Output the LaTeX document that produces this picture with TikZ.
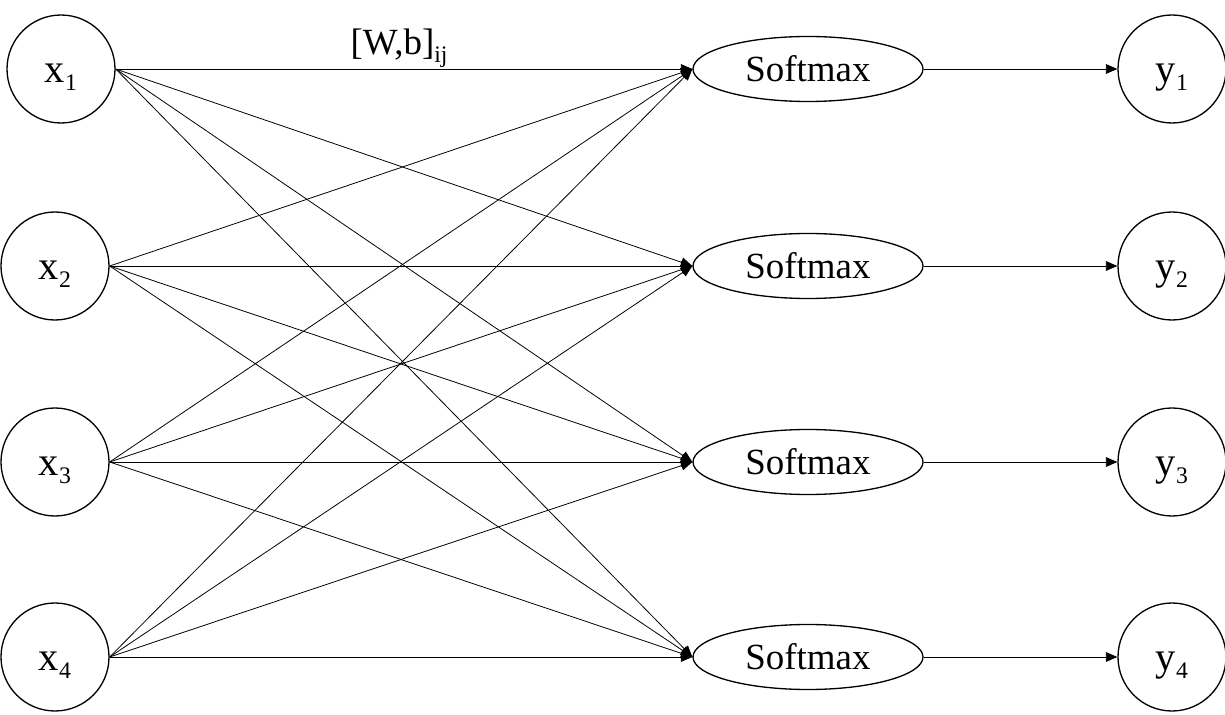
\documentclass[tikz,border=0pt]{standalone}
\usepackage{fontspec}
\setmainfont{Liberation Serif}
\usepackage{xcolor}
\usepackage{tikz}
\usetikzlibrary{arrows.meta,shapes.geometric}
\definecolor{ink}{HTML}{000000}
\newcommand{\idx}[1]{\raisebox{-4.5pt}{\fontsize{13.5}{14}\selectfont #1}}
\tikzset{
  unit/.style={draw=ink, circle, line width=0.75pt, minimum size=2.16cm, inner sep=0pt, text height=20.8pt, text depth=5pt, font=\fontsize{23}{27}\selectfont},
  soft/.style={draw=ink, ellipse, line width=0.75pt, minimum width=4.6cm, minimum height=1.3cm, inner sep=0pt, font=\fontsize{21}{25}\selectfont},
  link/.style={draw=ink, line width=0.45pt, -{Triangle[length=6.5pt,width=5.5pt]}},
  lab/.style={text=ink, font=\fontsize{21}{25}\selectfont},
}
\begin{document}
\begin{tikzpicture}
  \useasboundingbox (0,0) rectangle (24.5,14.28);
  \foreach \i/\xx/\yy in {1/1.22/12.9,2/1.10/8.96,3/1.10/5.04,4/1.10/1.14}
    \node[unit] (x\i) at (\xx,\yy) {x\idx{\i}};
  \foreach \j/\yy in {1/12.9,2/8.96,3/5.04,4/1.14}{
    \node[soft] (s\j) at (16.16,\yy) {Softmax};
    \node[unit] (y\j) at (23.44,\yy) {y\idx{\j}};
    \draw[link] (s\j.east) -- (y\j.west);
  }
  \foreach \i in {1,...,4}
    \foreach \j in {1,...,4}
      \draw[link] (x\i.east) -- (s\j.west);
  \node[lab, anchor=base] (wb) at (7.98,13.18) {[W,b]\idx{ij}};
\end{tikzpicture}
\end{document}
